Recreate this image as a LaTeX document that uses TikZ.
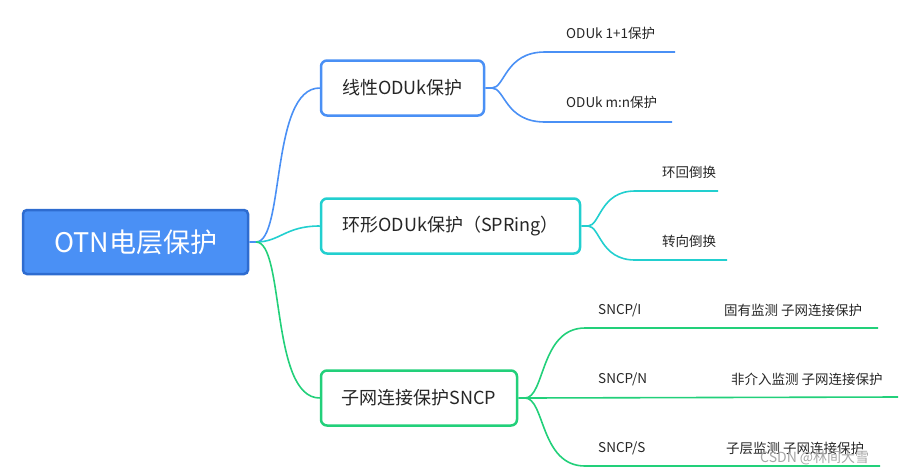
\documentclass[tikz,border=0pt]{standalone}
\usepackage{fontspec}
\setmainfont{Noto Sans CJK SC}
\definecolor{cb}{HTML}{4A90F5}
\definecolor{cbd}{HTML}{2E6CD0}
\definecolor{cc}{HTML}{22CFCF}
\definecolor{cg}{HTML}{22D07A}
\begin{document}
\begin{tikzpicture}[x=1pt,y=-1pt,
  box/.style={draw,line width=2.5pt,rounded corners=6pt,fill=white,minimum height=55pt,inner xsep=0pt,font=\fontsize{18}{21}\selectfont,text=black!85},
  leaf/.style={font=\fontsize{13.5}{16}\selectfont,text=black!85,anchor=west,inner sep=0pt},
  br/.style={line width=1.6pt}]
\useasboundingbox (0,0) rectangle (911,475);
\node[draw=cbd,fill=cb,line width=2.5pt,rounded corners=4pt,minimum width=225pt,minimum height=64pt,text=white,font=\fontsize{27}{31}\selectfont] (root) at (135.5,242) {OTN电层保护};
\node[box,draw=cb,minimum width=163pt] (lin) at (402.5,88) {线性ODUk保护};
\node[box,draw=cc,minimum width=259pt] (ring) at (450.5,226) {环形ODUk保护（SPRing）};
\node[box,draw=cg,minimum width=196pt] (sncp) at (419,398) {子网连接保护SNCP};
\coordinate (r0) at (256,242);
\draw[br,cb] (root.east) -- (r0) .. controls (285,242) and (270,88) .. (lin.west);
\draw[br,cc] (r0) .. controls (280,242) and (285,226) .. (ring.west);
\draw[br,cg] (r0) .. controls (285,242) and (270,398) .. (sncp.west);
% linear leaves
\coordinate (j1) at (492,88);
\coordinate (a1) at (675,52); \coordinate (a2) at (672,122);
\draw[br,cb] (lin.east) -- (j1) .. controls (505,88) and (505,52) .. (545,52) -- (a1);
\draw[br,cb] (j1) .. controls (505,88) and (505,122) .. (545,122) -- (a2);
\node[leaf] (t1) at (566,33) {ODUk 1+1保护};
\node[leaf] (t2) at (566,102) {ODUk m:n保护};
% ring leaves
\coordinate (j2) at (588,226);
\coordinate (b1) at (718,191); \coordinate (b2) at (727,260);
\draw[br,cc] (ring.east) -- (j2) .. controls (600,226) and (600,191) .. (635,191) -- (b1);
\draw[br,cc] (j2) .. controls (600,226) and (600,260) .. (635,260) -- (b2);
\node[leaf] (t3) at (662,172) {环回倒换};
\node[leaf] (t4) at (662,241) {转向倒换};
% sncp leaves
\coordinate (j3) at (525,398);
\coordinate (c1) at (878,328); \coordinate (c2) at (898,397); \coordinate (c3) at (880,466);
\draw[br,cg] (sncp.east) -- (j3) .. controls (545,398) and (540,328) .. (585,328) -- (c1);
\draw[br,cg] (j3) -- (c2);
\draw[br,cg] (j3) .. controls (545,398) and (540,466) .. (585,466) -- (c3);
\node[leaf] (s1) at (598,310) {SNCP/I};
\node[leaf] (s2) at (598,379) {SNCP/N};
\node[leaf] (s3) at (598,448) {SNCP/S};
\node[leaf] (d1) at (724,310) {固有监测 子网连接保护};
\node[leaf] (d2) at (731,379) {非介入监测 子网连接保护};
\node[leaf] (d3) at (726,448) {子层监测 子网连接保护};
\node[leaf,text=black!35,font=\fontsize{14}{16}\selectfont] (wm) at (760,458) {CSDN @林间大雪};
\end{tikzpicture}
\end{document}
